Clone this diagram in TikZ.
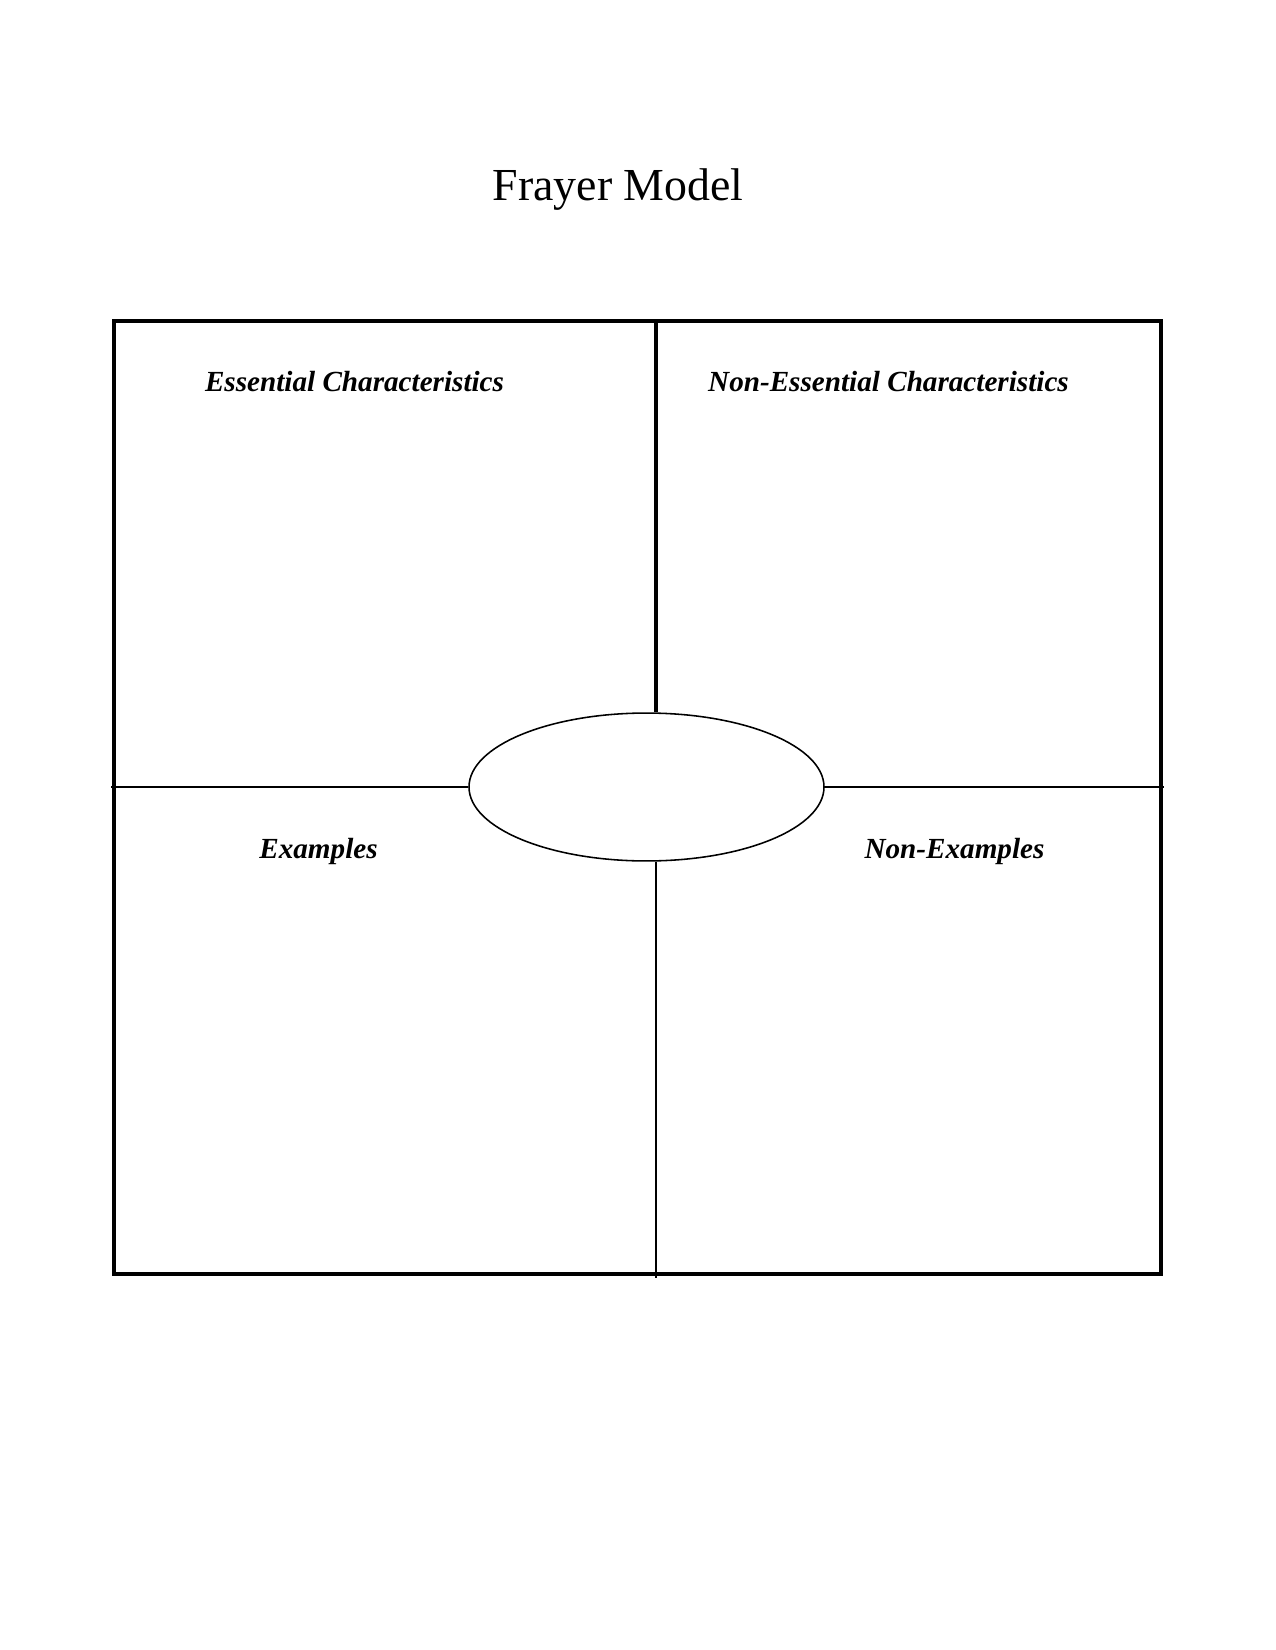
\documentclass[tikz,border=0pt]{standalone}
\usepackage{fontspec}
\setmainfont{Liberation Serif}
\usetikzlibrary{shapes.geometric}
\begin{document}
\begin{tikzpicture}[x=0.48pt,y=-0.48pt,
  title/.style={anchor=base,inner sep=0pt,font=\fontsize{22}{26}\selectfont},
  label/.style={anchor=base,inner sep=0pt,font=\fontsize{14}{17}\selectfont\bfseries\itshape},
  frame/.style={line width=1.9pt},
  thinline/.style={line width=0.75pt},
  thickline/.style={line width=1.7pt},
  centre/.style={ellipse,draw,line width=0.75pt,inner sep=0pt,minimum width=170.4pt,minimum height=71pt}]
\useasboundingbox[fill=white] (0,0) rectangle (1275,1650);
% title
\node[title] (t) at (618,201) {Frayer Model};
% frame
\coordinate (tl) at (114,321);
\coordinate (br) at (1161,1274);
\draw[frame] (tl) rectangle (br);
% central ellipse
\node[centre] (ell) at (646.5,787) {};
% line end points
\coordinate (hl) at (111,787);
\coordinate (hr) at (1164,787);
\coordinate (vt) at (656,321);
\coordinate (vb) at (656,1278);
\draw[thinline] (hl) -- (ell.west);
\draw[thinline] (ell.east) -- (hr);
\draw[thickline] (vt) -- (vt |- ell.north);
\draw[thinline] (vb |- ell.south) -- (vb);
% labels
\node[label] (ec) at (354.5,392) {Essential Characteristics};
\node[label] (nec) at (888.5,392) {Non-Essential Characteristics};
\node[label] (ex) at (318.5,858) {Examples};
\node[label] (nex) at (954.5,858) {Non-Examples};
\end{tikzpicture}
\end{document}
